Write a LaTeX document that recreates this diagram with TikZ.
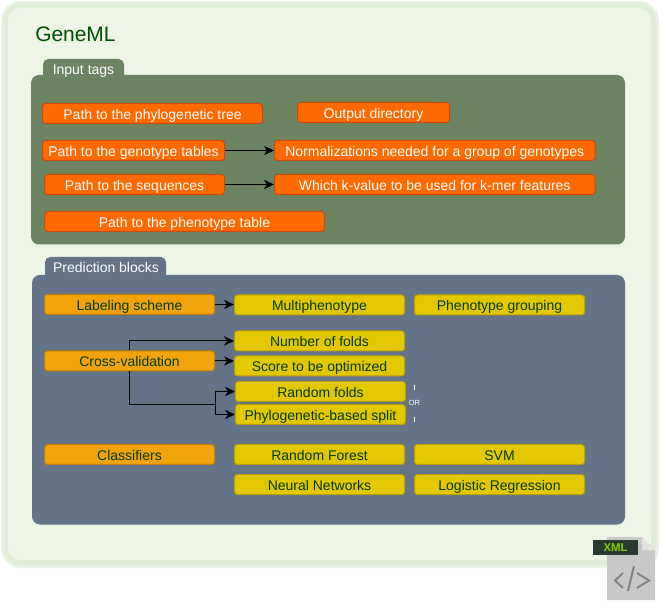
\documentclass[tikz,border=0pt]{standalone}
\usepackage{fontspec}
\setmainfont{Liberation Sans}
\usetikzlibrary{arrows.meta}
\definecolor{outerline}{HTML}{DFECD8}
\definecolor{outerhalo}{HTML}{E9F2E4}
\definecolor{outerfill}{HTML}{EEF4E6}
\definecolor{greenpanel}{HTML}{6D8463}
\definecolor{bluepanel}{HTML}{647387}
\definecolor{orangefill}{HTML}{FF6A00}
\definecolor{orangeline}{HTML}{D0480C}
\definecolor{amberfill}{HTML}{F0A30A}
\definecolor{amberline}{HTML}{C07E08}
\definecolor{yellowfill}{HTML}{E3C800}
\definecolor{yellowline}{HTML}{B8A000}
\definecolor{darktext}{HTML}{003A00}
\definecolor{titletext}{HTML}{005000}
\definecolor{filegray}{HTML}{C8C8C8}
\definecolor{foldgray}{HTML}{E2E2E2}
\definecolor{glyphgray}{HTML}{858585}
\definecolor{xmlback}{HTML}{2B3A30}
\definecolor{xmltext}{HTML}{7FD000}
\tikzset{
  x=0.75pt,y=-0.75pt,
  pxbox/.style={rounded corners=2.2pt,line width=0.75pt,inner sep=0pt,align=center,
    font=\fontsize{10.5}{12}\selectfont,text height=10pt,text depth=1pt},
  orangebox/.style={pxbox,draw=orangeline,fill=orangefill,text=white},
  amberbox/.style={pxbox,draw=amberline,fill=amberfill,text=darktext},
  yellowbox/.style={pxbox,draw=yellowline,fill=yellowfill,text=darktext},
  link/.style={draw=black,line width=0.75pt,-{Stealth[length=7.5pt,width=7pt,inset=2.2pt]}},
  plainlink/.style={draw=black,line width=0.75pt},
  tablabel/.style={text=white,inner sep=0pt,font=\fontsize{10.5}{12}\selectfont,text height=10pt,text depth=1pt},
  sep/.style={draw=white,line width=0.6pt},
}
\newcommand{\pbox}[7][]{%
  \node[#2,minimum width={(#5-#3)*0.75pt},minimum height={(#6-#4)*0.75pt},#1]
    (#7) at ({(#3+#5)/2},{(#4+#6)/2})}
\begin{document}
\begin{tikzpicture}
\useasboundingbox (0,0) rectangle (660,605);
\fill[white] (0,0) rectangle (660,605);
% outer container
\fill[outerhalo,rounded corners=15pt] (1,1) rectangle (659,568);
\fill[outerline,rounded corners=13pt] (3.5,3.5) rectangle (656,565);
\fill[outerfill,rounded corners=9pt] (8,8) rectangle (651,560);
\node[text=titletext,font=\fontsize{15.7}{18}\selectfont,anchor=west,inner sep=0pt] (title) at (35,34.5) {GeneML};
% input panel
\fill[greenpanel,rounded corners=6pt] (31,75) rectangle (625,244.5);
\fill[greenpanel] (43,76) [rounded corners=4pt] -- (43,59) -- (124,59) [sharp corners] -- (124,76) -- cycle;
\node[tablabel] (inputtab) at (83.5,68.5) {Input tags};
% prediction panel
\fill[bluepanel,rounded corners=6pt] (32,275) rectangle (625,524.5);
\fill[bluepanel] (45,276) [rounded corners=4pt] -- (45,257) -- (166,257) [sharp corners] -- (166,276) -- cycle;
\node[tablabel] (predtab) at (106,266.5) {Prediction blocks};
% orange
\pbox{orangebox}{42.5}{103.5}{262.5}{123.5}{tree} {Path to the phylogenetic tree};
\pbox{orangebox}{297.5}{102.5}{449.5}{122.5}{outdir} {Output directory};
\pbox{orangebox}{42.5}{140.5}{224.5}{160.5}{geno} {Path to the genotype tables};
\pbox{orangebox}{274.5}{140.5}{595}{160.5}{norm} {Normalizations needed for a group of genotypes};
\pbox{orangebox}{44.5}{174.5}{224.5}{194.5}{seq} {Path to the sequences};
\pbox{orangebox}{274.5}{174.5}{595}{194.5}{kval} {Which k-value to be used for k-mer features};
\pbox{orangebox}{44.5}{211.5}{324.5}{231.5}{pheno} {Path to the phenotype table};
% amber
\pbox{amberbox}{44.5}{294.5}{214.5}{314.5}{label} {Labeling scheme};
\pbox{amberbox}{44.5}{351}{214.5}{371}{cross} {Cross-validation};
\pbox{amberbox}{44.5}{444.5}{214.5}{464.5}{classif} {Classifiers};
% yellow
\pbox{yellowbox}{234.5}{295}{404.5}{315}{multi} {Multiphenotype};
\pbox{yellowbox}{414.5}{295}{584.5}{315}{group} {Phenotype grouping};
\pbox{yellowbox}{234.5}{331}{404.5}{351}{folds} {Number of folds};
\pbox{yellowbox}{234.5}{356}{404.5}{376}{score} {Score to be optimized};
\pbox{yellowbox}{235.5}{381.5}{405.5}{401.5}{random} {Random folds};
\pbox{yellowbox}{235.5}{404.5}{405.5}{424.5}{phylo} {Phylogenetic-based split};
\pbox{yellowbox}{234.5}{444.5}{404.5}{464.5}{forest} {Random Forest};
\pbox{yellowbox}{414.5}{444.5}{584.5}{464.5}{svm} {SVM};
\pbox{yellowbox}{234.5}{474.5}{404.5}{494.5}{neural} {Neural Networks};
\pbox{yellowbox}{414.5}{474.5}{584.5}{494.5}{logistic} {Logistic Regression};
% connectors
\draw[link] (geno.east) -- (geno.east -| norm.west);
\draw[link] (seq.east) -- (seq.east -| kval.west);
\draw[link] (label.east) -- (label.east -| multi.west);
\draw[link] (cross.north) |- (folds.west);
\draw[link] (cross.east) -- (cross.east -| score.west);
\coordinate (fork) at (215,404.5);
\draw[plainlink] (cross.south) |- (fork);
\draw[link] (fork) |- (random.west);
\draw[link] (fork) |- (phylo.west);
% or
\node[text=white,inner sep=0pt,font=\fontsize{5.6}{7}\selectfont] (ortext) at (414.5,403) {OR};
\coordinate (ortop) at (414.5,385);
\coordinate (orbottom) at (414.5,422);
\draw[sep] (ortop) -- ++(0,5);
\draw[sep] (orbottom) -- ++(0,-5);
% xml icon
\fill[filegray] (607,537) -- (642,537) -- (655,550) -- (655,600) -- (607,600) -- cycle;
\fill[foldgray] (642,537) -- (655,550) -- (642,550) -- cycle;
\node[fill=xmlback,text=xmltext,inner sep=0pt,minimum width=33.5pt,minimum height=11.5pt,
  font=\bfseries\fontsize{8.5}{9}\selectfont] (xml) at (615.5,547.5) {XML};
\draw[glyphgray,line width=1.5pt,line join=miter] (623,573) -- (615,580.5) -- (623,588);
\draw[glyphgray,line width=1.5pt,line join=miter] (637,573) -- (649,580.5) -- (637,588);
\draw[glyphgray,line width=1.5pt] (634,566) -- (628,591);
\end{tikzpicture}
\end{document}
